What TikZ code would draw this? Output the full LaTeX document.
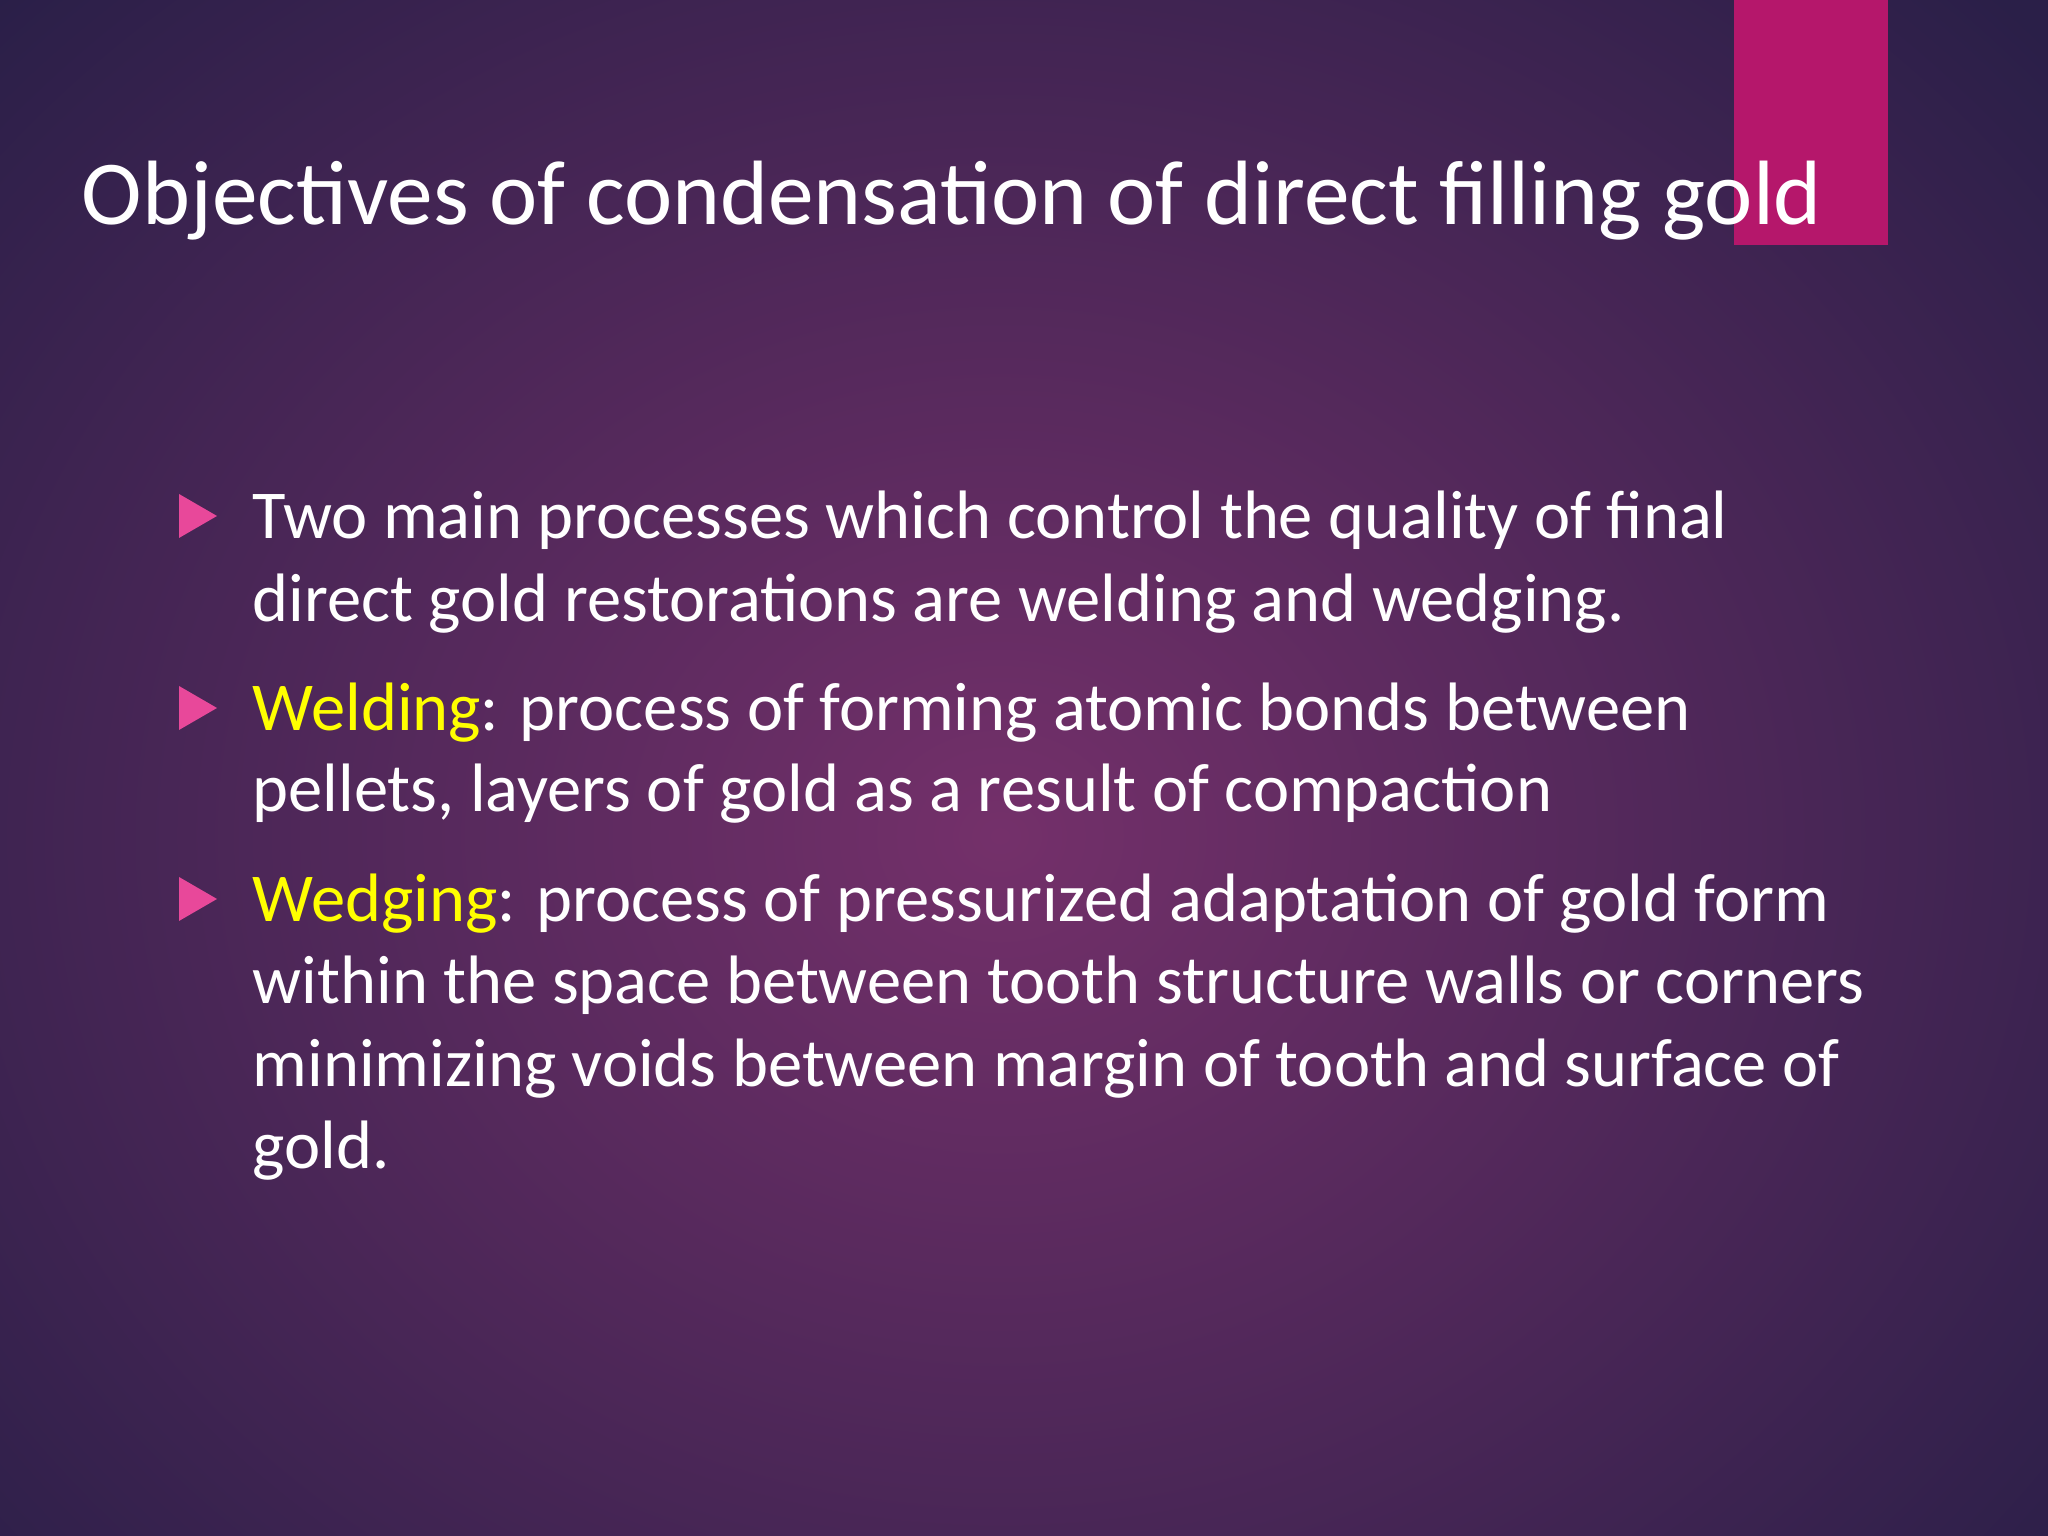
\documentclass[tikz,border=0pt]{standalone}
\usepackage{fontspec}
\setmainfont{Carlito}
\definecolor{bgdark}{HTML}{2A1F48}
\definecolor{bgmid}{HTML}{74306A}
\definecolor{accent}{HTML}{B5176B}
\definecolor{bul}{HTML}{E8489A}
\definecolor{hl}{HTML}{FFFF00}
\tikzset{
 body/.style={anchor=base west,inner sep=0pt,text=white,font=\fontsize{19.5}{23}\selectfont},
 bult/.style={fill=bul,draw=none}
}
\begin{document}
\begin{tikzpicture}[x=1cm,y=1cm]
\useasboundingbox (0,0) rectangle (20.48,15.36);
\fill[bgdark] (0,0) rectangle (20.48,15.36);
\shade[inner color=bgmid,outer color=bgdark] (-4,-5) rectangle (24,19);
\fill[accent] (17.34,15.36) rectangle (18.88,12.91);
\node[anchor=base west,inner sep=0pt,text=white,font=\fontsize{26}{30}\selectfont] (title) at (0.81,13.11) {Objectives of condensation of direct filling gold};
\foreach \n/\y in {b1/10.20, b2/8.28, b3/6.37}{
  \fill[bult] (1.79,\y+0.22) -- (2.17,\y) -- (1.79,\y-0.22) -- cycle;
}
\node[body] (l1) at (2.52,9.97) {Two main processes which control the quality of final};
\node[body] (l2) at (2.52,9.14) {direct gold restorations are welding and wedging.};
\node[body] (l3) at (2.52,8.05) {\textcolor{hl}{Welding}: process of forming atomic bonds between};
\node[body] (l4) at (2.52,7.24) {pellets, layers of gold as a result of compaction};
\node[body] (l5) at (2.52,6.14) {\textcolor{hl}{Wedging}: process of pressurized adaptation of gold form};
\node[body] (l6) at (2.52,5.32) {within the space between tooth structure walls or corners};
\node[body] (l7) at (2.52,4.49) {minimizing voids between margin of tooth and surface of};
\node[body] (l8) at (2.52,3.67) {gold.};
\end{tikzpicture}
\end{document}
